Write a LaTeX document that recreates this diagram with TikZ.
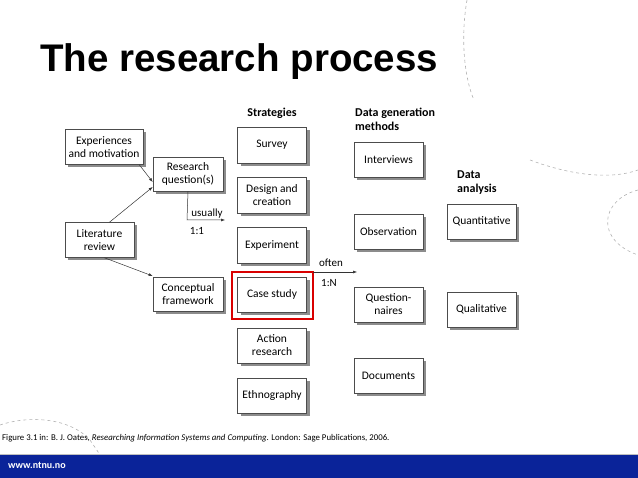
\documentclass[tikz,border=0pt]{standalone}
\usepackage{fontspec}
\setmainfont{Carlito}
\newfontfamily\titlefont{Liberation Sans}
\usetikzlibrary{shadows,arrows.meta}
\definecolor{ntnublue}{HTML}{0A2399}
\begin{document}
\begin{tikzpicture}[x=1pt,y=-1pt,
  bx/.style={draw=black!70,line width=0.6pt,fill=white,align=center,font=\fontsize{11.5}{13}\selectfont,
    minimum width=69pt,minimum height=35pt,inner sep=1pt,
    drop shadow={shadow xshift=3pt,shadow yshift=-3pt,fill=black!45,opacity=1}},
  hd/.style={font=\bfseries\fontsize{12}{14}\selectfont,align=left,anchor=north west,inner sep=0pt},
  lb/.style={font=\fontsize{11}{12}\selectfont,inner sep=0pt},
  ar/.style={-{Latex[length=4pt,width=3pt]},line width=0.5pt,black!80},
  deco/.style={black!30,dashed,line width=0.6pt}]
\useasboundingbox (0,0) rectangle (638,478);
% decorative arcs
\draw[deco] (467,0) .. controls (460,40) and (465,80) .. (474,100);
\draw[deco] (530,160) .. controls (570,175) and (610,180) .. (638,170);
\draw[deco] (638,190) .. controls (600,200) and (595,240) .. (638,255);
\draw[deco] (0,425) .. controls (30,415) and (70,418) .. (90,440) .. controls (100,455) and (108,465) .. (110,478);
% title
\node[anchor=west,font=\titlefont\bfseries\fontsize{38.5}{42}\selectfont,inner sep=0pt] (title) at (40,62) {The research process};
% headers
\node[lb,font=\bfseries\fontsize{12}{14}\selectfont] (hstrat) at (272,113) {Strategies};
\node[hd] (hdata) at (355,108) {Data generation\\methods};
\node[hd] (hana) at (457,171) {Data\\analysis};
% left boxes
\node[bx,minimum width=78pt] (exp) at (104,147) {Experiences\\and motivation};
\node[bx,minimum width=70pt,minimum height=34pt] (rq) at (188,174) {Research\\question(s)};
\node[bx] (lit) at (99.5,240) {Literature\\review};
\node[bx,minimum width=70pt,minimum height=34pt] (cf) at (188,294) {Conceptual\\framework};
% strategies
\node[bx,minimum height=36pt] (sv) at (272,145) {Survey};
\node[bx,minimum height=36pt] (dc) at (272,195) {Design and\\creation};
\node[bx,minimum height=36pt] (ex) at (272,245) {Experiment};
\node[bx] (cs) at (272,294.5) {Case study};
\node[bx] (ar) at (272,345.5) {Action\\research};
\node[bx] (eth) at (272,395.5) {Ethnography};
\draw[red!85!black,line width=2pt] (232,272) rectangle (313,319);
% data generation
\node[bx] (int) at (388.5,159.5) {Interviews};
\node[bx] (obs) at (388.5,231.5) {Observation};
\node[bx] (qn) at (388.5,304.5) {Question-\\naires};
\node[bx] (doc) at (388.5,375.5) {Documents};
% analysis
\node[bx] (qt) at (481.5,221.5) {Quantitative};
\node[bx] (ql) at (481.5,309.5) {Qualitative};
% connectors
\draw[ar] (exp.south east) ++(-4,0) coordinate (e1) -- (rq.west |- 0,182) coordinate (e2);
\draw[ar] (lit.north) ++(10,0) -- (rq.west |- 0,187);
\draw[ar] (lit.south) ++(5,0) -- (cf.west |- 0,276);
\coordinate (u1) at (187,220);
\coordinate (u2) at (225,220);
\draw[ar] (rq.south) -- (u1) -- (u2);
\node[lb,anchor=south] (usually) at (207,218) {usually};
\node[lb] (oneone) at (197,231) {1:1};
\coordinate (o2) at (357,272);
\draw[ar] (313,272) -- (o2);
\node[lb] (often) at (331,263) {often};
\node[lb] (onen) at (329,283) {1:N};
% caption
\node[anchor=west,inner sep=0pt,font=\fontsize{8.8}{10}\selectfont] (cap) at (2,438) {Figure 3.1 in: B. J. Oates, \textit{Researching Information Systems and Computing}. London: Sage Publications, 2006.};
% footer
\fill[ntnublue] (0,455) rectangle (638,478);
\draw[black!25,line width=0.6pt] (0,454) -- (638,454);
\node[anchor=west,text=white,inner sep=0pt,font=\bfseries\fontsize{10}{11}\selectfont] (url) at (8,465) {www.ntnu.no};
\end{tikzpicture}
\end{document}
